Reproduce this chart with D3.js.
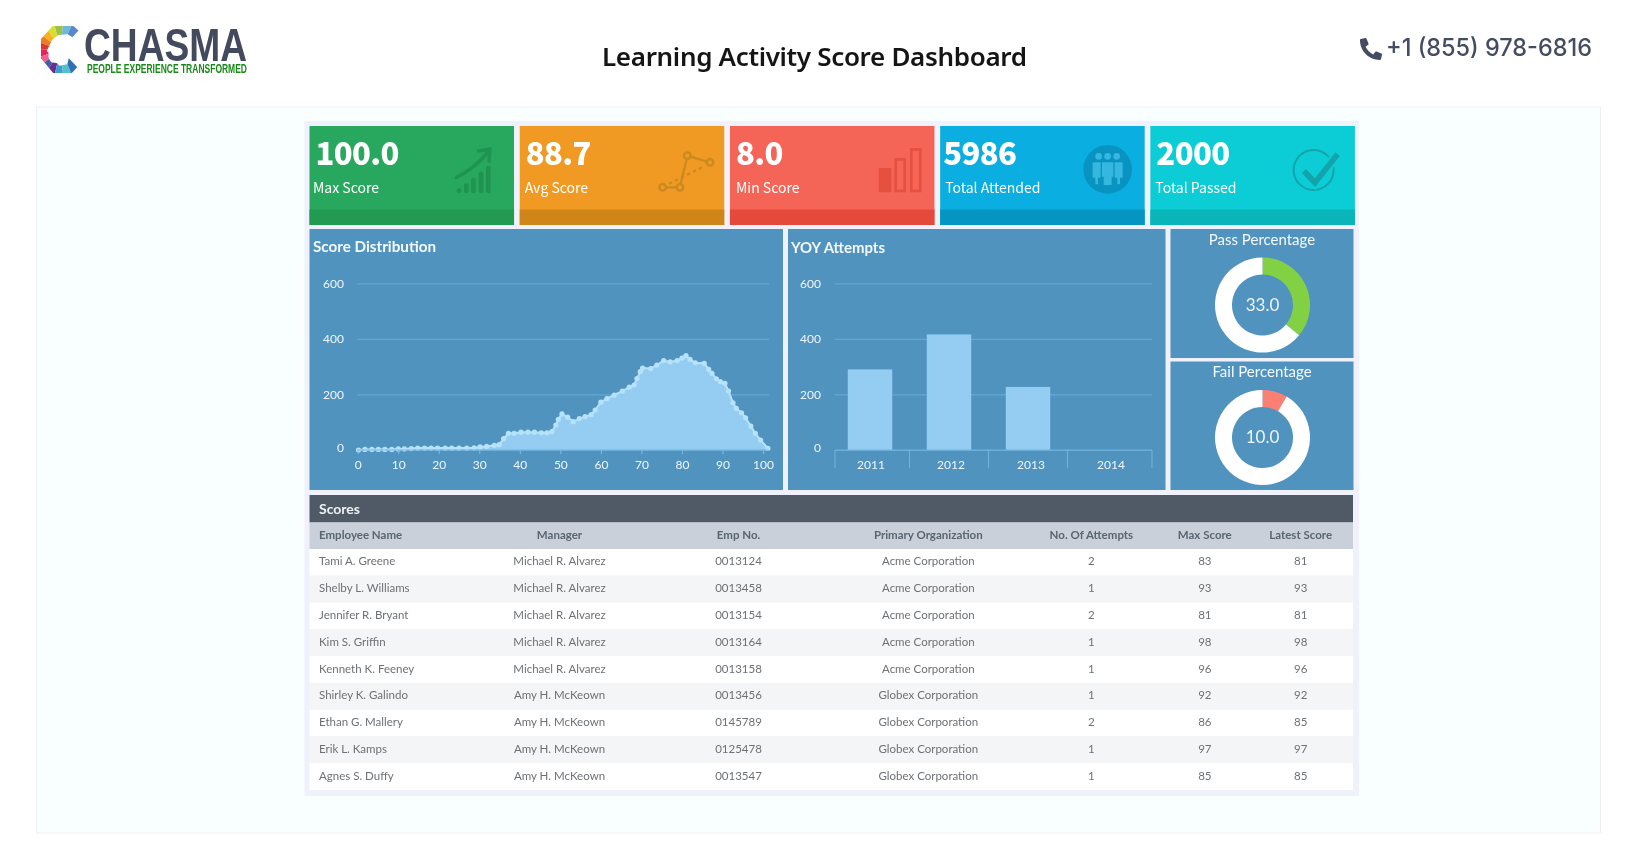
<!DOCTYPE html>
<html lang="en">
<head>
    <meta charset="UTF-8">
    <script src="https://d3js.org/d3.v7.min.js"></script>
    <title>Learning Activity Score Dashboard</title>
    <style>
        html, body { margin: 0; background: #fff; }
        svg { display: block; filter: blur(0.35px); }
        .panel-text { font-family: Lato, sans-serif; }
        .card-text { font-family: "Noto Sans CJK SC", "Noto Sans", sans-serif; fill: #fff; }
        .axis text { font: 12px Lato, sans-serif; fill: #eef6fb; }
        .axis .domain { display: none; }
        .grid line { stroke: #62a8d4; stroke-width: 1.2; }
        .cell { font: 11.5px Lato, sans-serif; fill: #6d7175; }
        .head { font: bold 11.5px Lato, sans-serif; fill: #5a6572; }
    </style>
</head>
<body>
    <svg width="1627" height="860"></svg>
    <script>
        // card values
        var cardLabels = ["Max Score", "Avg Score", "Min Score", "Total Attended", "Total Passed"];
        var cardValues = ["100.0", "88.7", "8.0", "5986", "2000"];
        var cardColors = ["#28a85e", "#f09a24", "#f46558", "#0aaee0", "#0ccdd5"];
        var cardBands = ["#229a52", "#cf8518", "#e4493a", "#0595c2", "#0ab5ba"];

        // score distribution
        var scoreBins = [0.2, 1.8, 3.5, 5.1, 6.7, 8.4, 10, 11.5, 13.2, 14.8, 16.5, 18.1, 19.7, 21.6, 23.2, 25, 26.9, 28.7, 30.2, 31.8, 33.7, 34.9, 36, 37.2, 38.6, 40.3, 42, 43.6, 45.3, 46.7, 47.9, 48.9, 49.5, 50.4, 51.8, 53.2, 54.7, 56.1, 57.6, 58.6, 60, 61.5, 63.3, 65.3, 67, 68.2, 68.9, 69.7, 70.3, 72.3, 73.8, 75.5, 77.1, 78.8, 80, 81, 82, 83.3, 85.5, 86.6, 87.4, 88.5, 89.5, 90.6, 91.5, 92.6, 93.4, 94.7, 95.7, 97, 98.1, 99.4, 101.2];
        var scoreCounts = [0, 2, 2, 2, 2, 2, 4, 4, 5, 7, 7, 7, 7, 7, 7, 7, 7, 8, 11, 13, 17, 19, 41, 60, 60, 64, 64, 64, 62, 62, 66, 90, 110, 130, 118, 102, 113, 120, 127, 144, 172, 185, 198, 212, 226, 234, 257, 282, 295, 293, 306, 322, 317, 322, 331, 340, 326, 314, 312, 290, 276, 256, 246, 240, 212, 170, 150, 134, 116, 86, 60, 36, 6];
        var scoreTicks = [0, 10, 20, 30, 40, 50, 60, 70, 80, 90, 100];
        var countTicks = [0, 200, 400, 600];

        // attempts per year
        var years = ["2011", "2012", "2013", "2014"];
        var attempts = [290, 416, 227, 0];

        // donuts: printed value and the share of the ring it covers
        var donutTitles = ["Pass Percentage", "Fail Percentage"];
        var donutLabels = ["33.0", "10.0"];
        var donutShares = [36, 8.5];
        var donutColors = ["#82d145", "#fc7f73"];

        // table
        var tableHeads = ["Employee Name", "Manager", "Emp No.", "Primary Organization", "No. Of Attempts", "Max Score", "Latest Score"];
        var employees = ["Tami A. Greene", "Shelby L. Williams", "Jennifer R. Bryant", "Kim S. Griffin", "Kenneth K. Feeney", "Shirley K. Galindo", "Ethan G. Mallery", "Erik L. Kamps", "Agnes S. Duffy"];
        var managers = ["Michael R. Alvarez", "Michael R. Alvarez", "Michael R. Alvarez", "Michael R. Alvarez", "Michael R. Alvarez", "Amy H. McKeown", "Amy H. McKeown", "Amy H. McKeown", "Amy H. McKeown"];
        var empNos = ["0013124", "0013458", "0013154", "0013164", "0013158", "0013456", "0145789", "0125478", "0013547"];
        var orgs = ["Acme Corporation", "Acme Corporation", "Acme Corporation", "Acme Corporation", "Acme Corporation", "Globex Corporation", "Globex Corporation", "Globex Corporation", "Globex Corporation"];
        var attemptCounts = [2, 1, 2, 1, 1, 1, 2, 1, 1];
        var maxScores = [83, 93, 81, 98, 96, 92, 86, 97, 85];
        var latestScores = [81, 93, 81, 98, 96, 92, 85, 97, 85];

        var PANEL = "#5193bf", BAR = "#95cdf2", LINE = "#b7e2fb";
        var svg = d3.select("svg");

        function box(x, y, w, h, fill) {
            return svg.append("rect").attr("x", x).attr("y", y).attr("width", w).attr("height", h).attr("fill", fill);
        }

        // page frames
        box(36.5, 107, 1564, 726, "#f9feff").attr("stroke", "#eef1f3");
        box(304.5, 121, 1054.5, 675, "#eff2fd");

        // header
        svg.append("text").attr("x", 814.5).attr("y", 66).attr("text-anchor", "middle")
            .attr("font-family", "Noto Sans").attr("font-weight", 600).attr("font-size", 26).attr("fill", "#151515")
            .attr("textLength", 425).text("Learning Activity Score Dashboard");
        svg.append("path").attr("fill", "#454c61")
            .attr("transform", "translate(1382,38) scale(-0.043,0.043)")
            .attr("d", "M493.4 24.6l-104-24c-11.3-2.6-22.9 3.3-27.5 13.9l-48 112c-4.2 9.8-1.4 21.3 6.9 28l60.6 49.6c-36 76.7-98.9 140.5-177.2 177.2l-49.6-60.6c-6.8-8.3-18.2-11.1-28-6.9l-112 48C3.9 366.5-2 378.1.6 389.4l24 104C27.1 504.2 36.7 512 48 512c256.1 0 464-207.5 464-464 0-11.2-7.7-20.9-18.6-23.4z");
        svg.append("text").attr("x", 1386).attr("y", 55.5).attr("font-family", "Inter").attr("font-weight", 500).attr("font-size", 24)
            .attr("fill", "#454c61").attr("textLength", 206).attr("lengthAdjust", "spacingAndGlyphs").text("+1 (855) 978-6816");

        // logo
        var logoColors = ["#5b86c9", "#6fb8dc", "#9bc24a", "#d6de30", "#f7b21b", "#f07a22", "#d93a2e", "#e5225a", "#ef5f8f", "#3f5fae", "#6a2d90", "#3a9fca", "#4fc2c8", "#2f6fb5"];
        var logo = svg.append("g").attr("transform", "translate(30,15) scale(0.3333)");
        svg.append("clipPath").attr("id", "logo-clip").append("polygon")
            .attr("points", "68,33 130,33 150,50 150,147 125,175 70,175 33,130 33,72");
        var logoArc = d3.arc().innerRadius(0).outerRadius(130);
        var logoPie = d3.pie().value(1).sort(null).startAngle(0.75).endAngle(-3.9);
        logo.append("g").attr("clip-path", "url(#logo-clip)")
            .selectAll("path").data(logoPie(logoColors)).join("path")
            .attr("transform", "translate(92,104)")
            .attr("d", logoArc).attr("fill", d => d.data);
        logo.append("polygon").attr("fill", "#fff")
            .attr("points", "152,48 131,69 113,58 85,60 66,75 58,92 50,108 56,114 55,125 59,135 64,142 82,145 88,152 112,148 118,122 152,147");
        svg.append("text").attr("x", 84).attr("y", 60.5).attr("font-family", "Liberation Sans")
            .attr("font-weight", 700).attr("font-size", 46).attr("fill", "#434a5e")
            .attr("textLength", 163).attr("lengthAdjust", "spacingAndGlyphs").text("CHASMA");
        svg.append("text").attr("x", 87).attr("y", 73).attr("font-family", "Liberation Sans")
            .attr("font-weight", 700).attr("font-size", 12.5).attr("fill", "#178a17")
            .attr("textLength", 160).attr("lengthAdjust", "spacingAndGlyphs").text("PEOPLE EXPERIENCE TRANSFORMED");

        // KPI cards
        var xCard = d3.scaleBand().domain(cardLabels).range([309.5, 1354.9]).paddingInner(0.027);
        var valueInset = [6, 6, 6, 3, 6];
        var labelInset = [3.5, 5, 6, 5, 5];
        cardLabels.forEach(function(label, i) {
            var x = xCard(label), w = xCard.bandwidth();
            box(x, 126, w, 99, cardColors[i]);
            box(x, 209.5, w, 15.5, cardBands[i]);
            svg.append("text").attr("class", "card-text").attr("x", x + valueInset[i]).attr("y", 165)
                .attr("font-weight", 900).attr("font-size", 31).attr("letter-spacing", -0.6).text(cardValues[i]);
            svg.append("text").attr("class", "card-text").attr("x", x + labelInset[i]).attr("y", 193)
                .attr("font-size", 14).text(label);
        });

        // card icons
        var green = svg.append("g").attr("transform", "translate(440,135) scale(0.3333)").attr("fill", "#1f9450").attr("stroke", "#1f9450");
        [[50, 160], [72, 145], [93, 128], [116, 110], [138, 92]].forEach(function(b) {
            green.append("rect").attr("x", b[0]).attr("y", b[1]).attr("width", 14).attr("height", 175 - b[1]).attr("rx", 6).attr("stroke", "none");
        });
        green.append("path").attr("fill", "none").attr("stroke-width", 10).attr("stroke-linecap", "round").attr("d", "M48 128 Q105 100 145 50 M115 48 L150 42 L147 78");

        var orange = svg.append("g").attr("transform", "translate(440,135) scale(0.3333)").attr("fill", "none").attr("stroke", "#c98a20").attr("stroke-width", 7);
        orange.append("path").attr("d", "M679 157 L709 157 M722 146 L740 73 M752 65 L798 79");
        orange.append("path").attr("d", "M690 145 L790 95").attr("stroke-dasharray", "4 16").attr("stroke-linecap", "round");
        [[668, 157], [720, 157], [742, 62], [810, 82]].forEach(function(c) {
            orange.append("circle").attr("cx", c[0]).attr("cy", c[1]).attr("r", 10);
        });

        var red = svg.append("g").attr("transform", "translate(870,135) scale(0.3333)").attr("stroke", "#e5503f").attr("stroke-width", 8);
        red.append("rect").attr("x", 30).attr("y", 103).attr("width", 30).attr("height", 65).attr("fill", "#e5503f");
        red.append("rect").attr("x", 77).attr("y", 73).attr("width", 27).attr("height", 95).attr("fill", "none");
        red.append("rect").attr("x", 124).attr("y", 43).attr("width", 27).attr("height", 125).attr("fill", "none");

        var blue = svg.append("g").attr("transform", "translate(870,135) scale(0.3333)");
        blue.append("circle").attr("cx", 713).attr("cy", 103).attr("r", 73).attr("fill", "#0993c0");
        [686, 713, 740].forEach(function(cx) {
            blue.append("circle").attr("cx", cx).attr("cy", 64).attr("r", 10).attr("fill", "#35b7e0");
        });
        blue.append("path").attr("fill", "#35b7e0").attr("d", "M668 82 H692 V128 H684 V148 H676 V128 H668 Z M734 82 H758 V128 H750 V148 H742 V128 H734 Z M696 82 H730 V125 H725 V150 H701 V125 H696 Z");

        var teal = svg.append("g").attr("transform", "translate(870,135) scale(0.3333)");
        teal.append("circle").attr("cx", 1331).attr("cy", 105).attr("r", 60).attr("fill", "none").attr("stroke", "#12a4aa").attr("stroke-width", 6);
        teal.append("path").attr("fill", "none").attr("stroke", "#0ccdd5").attr("stroke-width", 30).attr("d", "M1302 108 L1335 143 L1403 58");
        teal.append("path").attr("fill", "none").attr("stroke", "#12a4aa").attr("stroke-width", 17).attr("d", "M1302 108 L1335 143 L1403 58");

        // chart panels
        box(309.5, 229, 473.5, 261, PANEL);
        box(788, 229, 377.5, 261, PANEL);
        box(1170.5, 229, 183, 129, PANEL);
        box(1170.5, 361.5, 183, 128.5, PANEL);

        function panelTitle(x, y, str, len) {
            svg.append("text").attr("class", "panel-text").attr("x", x).attr("y", y)
                .attr("font-weight", 700).attr("font-size", 15).attr("fill", "#f4f9fc")
                .attr("textLength", len).attr("lengthAdjust", "spacingAndGlyphs").text(str);
        }
        panelTitle(313, 252, "Score Distribution", 123);
        panelTitle(791, 253, "YOY Attempts", 94);

        // shared count scale
        var yCount = d3.scaleLinear().domain([0, 600]).range([450, 283.3]);

        // score distribution
        var xScore = d3.scaleLinear().domain([0, 100]).range([357.7, 763]);
        var scoreGrid = svg.append("g").attr("class", "axis grid").attr("transform", "translate(357,0)")
            .call(d3.axisLeft(yCount).tickValues(countTicks).tickSize(-412).tickPadding(13));
        scoreGrid.selectAll(".tick text").filter(d => d === 0).attr("y", -2);
        var scorePoints = d3.zip(scoreBins, scoreCounts);
        svg.append("path").datum(scorePoints).attr("fill", BAR)
            .attr("d", d3.area().x(d => xScore(d[0])).y0(yCount(0)).y1(d => yCount(d[1])));
        svg.append("path").datum(scorePoints).attr("fill", "none").attr("stroke", LINE).attr("stroke-width", 2)
            .attr("d", d3.line().x(d => xScore(d[0])).y(d => yCount(d[1])));
        svg.append("g").selectAll("circle").data(scorePoints).join("circle")
            .attr("cx", d => xScore(d[0])).attr("cy", d => yCount(d[1])).attr("r", 2.6).attr("fill", LINE);
        var scoreAxis = svg.append("g").attr("class", "axis").attr("transform", "translate(0,450)")
            .call(d3.axisBottom(xScore).tickValues(scoreTicks).tickSize(4).tickPadding(6));
        scoreAxis.selectAll("line").attr("stroke", "#7dbbe2");
        svg.append("line").attr("x1", 357).attr("x2", 769).attr("y1", 450).attr("y2", 450).attr("stroke", "#74b4dd").attr("stroke-width", 1.2);

        // year over year attempts
        var xYear = d3.scaleBand().domain(years).range([830.5, 1146.5]);
        var xBar = d3.scaleBand().domain(years).range([830.5, 1146.5]).paddingInner(0.4375).paddingOuter(0.21875);
        var xYearLabel = d3.scaleBand().domain(years).range([831, 1151]);
        var yearGrid = svg.append("g").attr("class", "axis grid").attr("transform", "translate(835,0)")
            .call(d3.axisLeft(yCount).tickValues(countTicks).tickSize(-317).tickPadding(14));
        yearGrid.selectAll(".tick text").filter(d => d === 0).attr("y", -2);
        svg.append("g").selectAll("rect").data(d3.zip(years, attempts)).join("rect")
            .attr("x", d => xBar(d[0])).attr("width", xBar.bandwidth())
            .attr("y", d => yCount(d[1])).attr("height", d => yCount(0) - yCount(d[1]))
            .attr("fill", BAR);
        svg.append("g").attr("class", "axis").attr("transform", "translate(0,450)")
            .call(d3.axisBottom(xYearLabel).tickSize(0).tickPadding(10));
        svg.append("line").attr("x1", 835).attr("x2", 1152).attr("y1", 450).attr("y2", 450).attr("stroke", "#74b4dd").attr("stroke-width", 1.2);
        svg.append("g").selectAll("line").data([835].concat(years.slice(1).map(d => xYear(d)), [1152])).join("line")
            .attr("x1", d => d).attr("x2", d => d).attr("y1", 450).attr("y2", 468).attr("stroke", "#74b4dd");

        // pass / fail donuts
        var donutArc = d3.arc().innerRadius(30.5).outerRadius(47.5);
        var donutPie = d3.pie().sort(null);
        donutTitles.forEach(function(title, i) {
            var cy = [305, 437.5][i];
            svg.append("text").attr("class", "panel-text").attr("x", 1262).attr("y", cy - 60.5).attr("text-anchor", "middle")
                .attr("font-size", 15).attr("fill", "#f4f9fc").text(title);
            var g = svg.append("g").attr("transform", "translate(1262.5," + cy + ")");
            g.selectAll("path").data(donutPie([donutShares[i], 100 - donutShares[i]])).join("path")
                .attr("d", donutArc).attr("fill", (d, j) => j === 0 ? donutColors[i] : "#fff");
            g.append("text").attr("class", "panel-text").attr("text-anchor", "middle").attr("dy", "0.35em")
                .attr("font-size", 17).attr("fill", "#eef6fb").text(donutLabels[i]);
        });

        // scores table
        box(309.5, 495, 1043.5, 27.5, "#4f5a66");
        svg.append("text").attr("class", "panel-text").attr("x", 319).attr("y", 514)
            .attr("font-weight", 700).attr("font-size", 14).attr("fill", "#eef1f4").text("Scores");
        box(309.5, 522.5, 1043.5, 26.5, "#c9d0d9");
        var yRow = d3.scaleBand().domain(employees).range([549, 790]);
        var columns = [employees, managers, empNos, orgs, attemptCounts, maxScores, latestScores];
        var colX = [319, 559.5, 738.5, 928.3, 1091.4, 1204.8, 1300.7];
        svg.append("g").selectAll("rect").data(employees).join("rect")
            .attr("x", 309.5).attr("width", 1043.5)
            .attr("y", d => yRow(d)).attr("height", yRow.bandwidth())
            .attr("fill", (d, i) => i % 2 ? "#f4f5f7" : "#fff");
        tableHeads.forEach(function(head, c) {
            svg.append("text").attr("class", "head").attr("x", colX[c]).attr("y", 535.7).attr("dy", "0.27em")
                .attr("text-anchor", c === 0 ? "start" : "middle").text(head);
            svg.append("g").selectAll("text").data(columns[c]).join("text")
                .attr("class", "cell").attr("x", colX[c])
                .attr("y", (d, i) => yRow(employees[i]) + yRow.bandwidth() / 2).attr("dy", "0.27em")
                .attr("text-anchor", c === 0 ? "start" : "middle").text(d => d);
        });
    </script>
</body>
</html>
